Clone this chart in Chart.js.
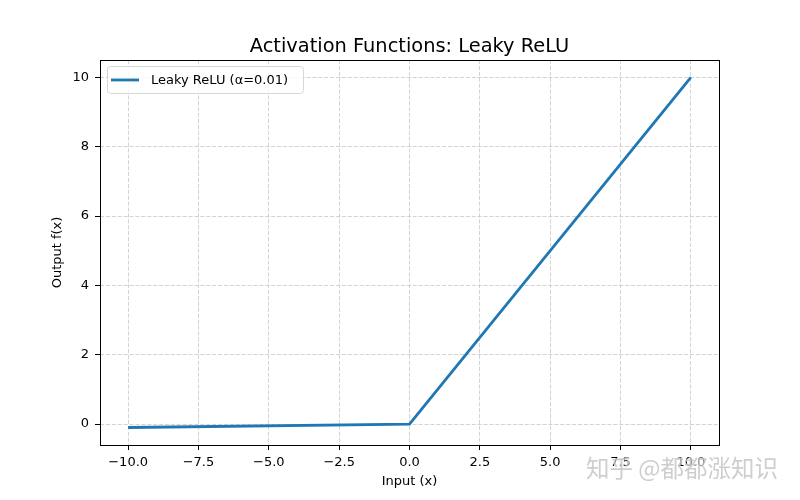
<!DOCTYPE html>
<html>
<head>
<meta charset="utf-8">
<script src="https://cdn.jsdelivr.net/npm/chart.js@4/dist/chart.umd.min.js"></script>
<style>
html,body{margin:0;padding:0;background:#fff;}
#wrap{width:800px;height:500px;position:relative;}
</style>
</head>
<body>
<div id="wrap"><canvas id="c" width="800" height="500"></canvas></div>
<script>
// ---- data ----
const xValues = [-10, 0, 10];
const yValues = [-0.1, 0, 10];
const seriesLabel = 'Leaky ReLU (\u03b1=0.01)';
const xTicks = [-10, -7.5, -5, -2.5, 0, 2.5, 5, 7.5, 10];
const yTicks = [0, 2, 4, 6, 8, 10];
const chartTitle = 'Activation Functions: Leaky ReLU';
const xLabel = 'Input (x)';
const yLabel = 'Output f(x)';
const watermark = '\u77e5\u4e4e @\u90fd\u90fd\u6da8\u77e5\u8bc6';

const FONT = 'DejaVu Sans';
const lineColor = '#1f77b4';

function fmtX(v){ return v.toFixed(1).replace('-', '\u2212'); }
function fmtY(v){ return String(v).replace('-', '\u2212'); }

const boxPlugin = {
  id: 'boxPlugin',
  afterDraw(chart){
    const {ctx, chartArea:a} = chart;
    ctx.save();
    ctx.strokeStyle = '#000';
    ctx.lineWidth = 1;
    ctx.strokeRect(Math.round(a.left)+0.5, Math.round(a.top)+0.5, Math.round(a.right-a.left), Math.round(a.bottom-a.top));
    // legend
    const lx = a.left + 7, ly = a.top + 6, lw = 196, lh = 27;
    ctx.fillStyle = 'rgba(255,255,255,0.8)';
    ctx.strokeStyle = '#d6d6d6';
    ctx.beginPath();
    if (ctx.roundRect) ctx.roundRect(lx+0.5, ly+0.5, lw, lh, 3); else ctx.rect(lx+0.5, ly+0.5, lw, lh);
    ctx.fill(); ctx.stroke();
    ctx.strokeStyle = lineColor;
    ctx.lineWidth = 2.8;
    ctx.beginPath();
    ctx.moveTo(lx+4, ly+lh/2+0.5);
    ctx.lineTo(lx+32, ly+lh/2+0.5);
    ctx.stroke();
    ctx.fillStyle = '#000';
    ctx.font = '13px "' + FONT + '"';
    ctx.textBaseline = 'middle';
    ctx.textAlign = 'left';
    ctx.fillText(chart.data.datasets[0].label, lx+44, ly+lh/2+1);
    // watermark
    ctx.font = '23.5px "Noto Sans CJK SC"';
    ctx.textBaseline = 'alphabetic';
    ctx.lineWidth = 1.5;
    ctx.strokeStyle = 'rgba(255,255,255,0.5)';
    ctx.strokeText(watermark, 586, 477);
    ctx.fillStyle = 'rgba(190,190,190,0.75)';
    ctx.fillText(watermark, 586, 477);
    ctx.restore();
  }
};

new Chart(document.getElementById('c'), {
  type: 'line',
  data: {
    datasets: [{
      label: seriesLabel,
      data: xValues.map((x, i) => ({x: x, y: yValues[i]})),
      borderColor: lineColor,
      backgroundColor: lineColor,
      borderWidth: 2.8,
      pointRadius: 0,
      tension: 0,
      fill: false
    }]
  },
  options: {
    responsive: false,
    animation: false,
    devicePixelRatio: 1,
    layout: { padding: { left: 0, right: 81, top: 0, bottom: 0 } },
    plugins: {
      legend: { display: false },
      tooltip: { enabled: false },
      title: {
        display: true,
        fullSize: false,
        text: chartTitle,
        color: '#000',
        font: { family: FONT, size: 19.4, weight: 'normal', lineHeight: 1.2 },
        padding: { top: 35, bottom: 1.7 }
      }
    },
    scales: {
      x: {
        type: 'linear',
        min: -11, max: 11,
        afterBuildTicks(s){ s.ticks = xTicks.map(v => ({value: v})); },
        afterFit(s){ s.height = 55; },
        ticks: {
          color: '#000',
          font: { family: FONT, size: 13 },
          padding: 5,
          maxRotation: 0,
          autoSkip: false,
          callback: v => fmtX(v)
        },
        grid: {
          color: '#c8c8c8',
          lineWidth: 0.8,
          tickColor: '#000',
          tickLength: 5,
          tickWidth: 1,
          tickBorderDash: []
        },
        border: { display: false, dash: [4.1, 1.8] },
        title: {
          display: true, text: xLabel, color: '#000',
          font: { family: FONT, size: 13, lineHeight: 1.2 },
          padding: { top: 0, bottom: 10.2 }
        }
      },
      y: {
        type: 'linear',
        min: -0.605, max: 10.505,
        afterBuildTicks(s){ s.ticks = yTicks.map(v => ({value: v})); },
        afterFit(s){ s.width = 100; },
        ticks: {
          color: '#000',
          font: { family: FONT, size: 13 },
          padding: 6,
          autoSkip: false,
          callback: v => fmtY(v)
        },
        grid: {
          color: '#c8c8c8',
          lineWidth: 0.8,
          tickColor: '#000',
          tickLength: 5,
          tickWidth: 1,
          tickBorderDash: []
        },
        border: { display: false, dash: [4.1, 1.8] },
        title: {
          display: true, text: yLabel, color: '#000',
          font: { family: FONT, size: 13, lineHeight: 1.2 },
          padding: { top: 50.2, bottom: 0 }
        }
      }
    }
  },
  plugins: [boxPlugin]
});
</script>
</body>
</html>
